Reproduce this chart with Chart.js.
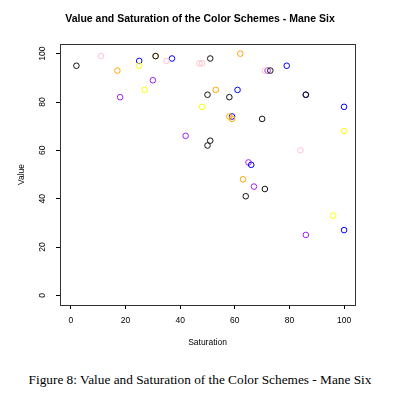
<!DOCTYPE html>
<html>
<head>
<meta charset="utf-8">
<script src="https://cdn.jsdelivr.net/npm/chart.js@4"></script>
<style>
  html, body { margin: 0; padding: 0; background: #fff; }
  #wrap { width: 400px; height: 360px; }
  #caption {
    width: 400px; margin-top: 13px; text-align: center;
    font-family: "Liberation Serif", "DejaVu Serif", serif; font-size: 13.3px; line-height: 14px; color: #000;
  }
</style>
</head>
<body>
<div id="wrap"><canvas id="scatter" width="400" height="360"></canvas></div>
<div id="caption">Figure 8: Value and Saturation of the Color Schemes - Mane Six</div>
<script>
// saturation / value pairs per colour
const blackSat = [2, 31, 51, 50, 58, 50, 51, 73, 86, 70, 71, 64];
const blackVal = [95, 99, 98, 83, 82, 62, 64, 93, 83, 73, 44, 41];
const pinkSat = [11, 35, 47, 48, 71, 84];
const pinkVal = [99, 97, 96, 96, 93, 60];
const orangeSat = [17, 31, 62, 53, 58, 59, 63];
const orangeVal = [93, 99, 100, 85, 74, 73, 48];
const yellowSat = [25, 27, 48, 100, 96];
const yellowVal = [95, 85, 78, 68, 33];
const blueSat = [25, 37, 79, 61, 86, 59, 100, 66, 100];
const blueVal = [97, 98, 95, 85, 83, 74, 78, 54, 27];
const purpleSat = [30, 18, 42, 72, 65, 67, 86];
const purpleVal = [89, 82, 66, 93, 55, 45, 25];

const tickValues = [0, 20, 40, 60, 80, 100];
const titleText = 'Value and Saturation of the Color Schemes - Mane Six';

const sans = '"Liberation Sans", Arial, sans-serif';

function pts(xs, ys) {
    return xs.map((x, i) => ({ x: x, y: ys[i] }));
}

function series(xs, ys, color) {
    return {
        data: pts(xs, ys),
        borderColor: color,
        backgroundColor: 'rgba(0,0,0,0)',
        pointRadius: 2.8,
        borderWidth: 1,
        pointStyle: 'circle'
    };
}

const ctx = document.getElementById('scatter').getContext('2d');

// box around plot, centred title and rotated y tick labels (R style)
const rBox = {
    id: 'rBox',
    afterDraw(chart) {
        const c = chart.ctx;
        const a = chart.chartArea;
        c.save();
        c.strokeStyle = '#333';
        c.lineWidth = 1;
        c.strokeRect(Math.round(a.left) + 0.5, Math.round(a.top) + 0.5, Math.round(a.right - a.left), Math.round(a.bottom - a.top));

        c.fillStyle = '#000';
        c.textAlign = 'center';
        c.textBaseline = 'middle';
        c.font = 'bold 10.5px ' + sans;
        c.fillText(titleText, 200, 19);

        const ys = chart.scales.y;
        c.font = '8.5px ' + sans;
        tickValues.forEach(v => {
            c.save();
            c.translate(43, ys.getPixelForValue(v));
            c.rotate(-Math.PI / 2);
            c.fillText(String(v), 0, 0);
            c.restore();
        });
        c.restore();
    }
};

new Chart(ctx, {
    type: 'scatter',
    data: {
        datasets: [
            series(blackSat, blackVal, '#111111'),
            series(pinkSat, pinkVal, '#FFC0CB'),
            series(orangeSat, orangeVal, '#FFA500'),
            series(yellowSat, yellowVal, '#FFFF00'),
            series(blueSat, blueVal, '#0000FF'),
            series(purpleSat, purpleVal, '#A020F0')
        ]
    },
    options: {
        responsive: false,
        animation: false,
        layout: { padding: { left: 0, right: 45, top: 44, bottom: 0 } },
        plugins: {
            legend: { display: false },
            tooltip: { enabled: false },
            title: { display: false }
        },
        scales: {
            x: {
                type: 'linear',
                min: -4,
                max: 104,
                afterBuildTicks: axis => { axis.ticks = tickValues.map(v => ({ value: v })); },
                afterFit: axis => { axis.height = 55; },
                border: { display: false },
                grid: { drawOnChartArea: false, drawTicks: true, tickLength: 4, color: '#000' },
                ticks: {
                    color: '#000', padding: 7,
                    font: { family: sans, size: 8.5 }
                },
                title: {
                    display: true, text: 'Saturation', color: '#000',
                    font: { family: sans, size: 8.5 },
                    padding: { bottom: 12 }
                }
            },
            y: {
                type: 'linear',
                min: -4,
                max: 104,
                afterBuildTicks: axis => { axis.ticks = tickValues.map(v => ({ value: v })); },
                afterFit: axis => { axis.width = 60; },
                border: { display: false },
                grid: { drawOnChartArea: false, drawTicks: true, tickLength: 4, color: '#000' },
                ticks: { display: false },
                title: {
                    display: true, text: 'Value', color: '#000',
                    font: { family: sans, size: 8.5 },
                    padding: { top: 17 }
                }
            }
        }
    },
    plugins: [rBox]
});
</script>
</body>
</html>
